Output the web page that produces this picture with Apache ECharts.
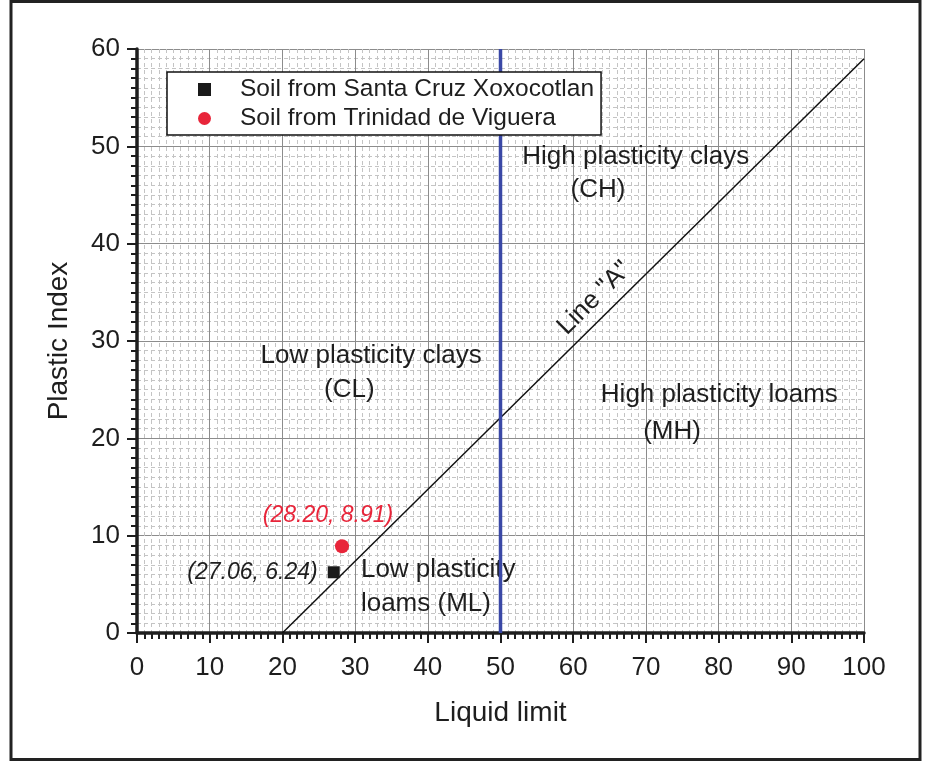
<!DOCTYPE html>
<html>
<head>
<meta charset="utf-8">
<title>Plasticity chart</title>
<script src="https://cdn.jsdelivr.net/npm/echarts@6/dist/echarts.min.js"></script>
<style>
    html, body { margin: 0; padding: 0; background: #fff; }
    #chartDiv { width: 932px; height: 762px; }
</style>
</head>
<body>
<div id="chartDiv"></div>
<script>
    // soil samples (liquid limit, plastic index)
    var santaCruz = [[27.06, 6.24]];
    var trinidad = [[28.20, 8.91]];
    // Casagrande line "A" and the LL = 50 divider
    var lineA = [[20, 0], [100, 59]];
    var llDivider = [[50, 0], [50, 60]];
    // zone names: [liquid limit, plastic index, text]
    var zoneNotes = [
        [68.6, 48.9, 'High plasticity clays'],
        [63.4, 45.5, '(CH)'],
        [32.2, 28.5, 'Low plasticity clays'],
        [29.2, 25.0, '(CL)'],
        [80.1, 24.5, 'High plasticity loams'],
        [73.6, 20.7, '(MH)']
    ];
    var mlNotes = [
        [30.8, 6.5, 'Low plasticity'],
        [30.8, 3.0, 'loams (ML)']
    ];
    var lineANote = [[62.9, 34.4, 'Line "A"']];

    var font = "'Liberation Sans', Arial, Helvetica, sans-serif";
    var ink = '#1e1e1e';

    function axisStyle(name, gap) {
        return {
            type: 'value',
            name: name,
            nameLocation: 'middle',
            nameGap: gap,
            nameTextStyle: { fontFamily: font, fontSize: 28, color: ink },
            axisLine: { lineStyle: { color: ink, width: 3.5 } },
            axisTick: { length: 10, lineStyle: { color: ink, width: 2 } },
            minorTick: { show: true, splitNumber: 10, length: 6, lineStyle: { color: ink, width: 2 } },
            splitLine: { show: true, lineStyle: { color: '#8c8c8c', width: 1 } },
            minorSplitLine: { show: true, lineStyle: { color: '#c4c4c4', width: 1, type: [4, 3] } },
            axisLabel: { fontFamily: font, fontSize: 26, color: ink }
        };
    }

    function noteData(list, label) {
        return list.map(function (d) {
            return { value: [d[0], d[1]], name: d[2], label: label };
        });
    }

    function pairText(p) {
        return '(' + p.value[0].toFixed(2) + ', ' + p.value[1].toFixed(2) + ')';
    }

    var xAxis = axisStyle('Liquid limit', 66);
    xAxis.min = 0;
    xAxis.max = 100;
    xAxis.interval = 10;
    xAxis.axisLabel.margin = 22;

    var yAxis = axisStyle('Plastic Index', 64);
    yAxis.min = 0;
    yAxis.max = 60;
    yAxis.interval = 10;
    yAxis.axisLabel.margin = 17;

    var chart = echarts.init(document.getElementById('chartDiv'));
    chart.setOption({
        backgroundColor: '#fff',
        animation: false,
        textStyle: { fontFamily: font },
        grid: { left: 137, right: 68, top: 49, bottom: 129, containLabel: false },
        graphic: [{
            type: 'rect',
            shape: { x: 11, y: 1.5, width: 909, height: 758 },
            style: { fill: null, stroke: '#222', lineWidth: 3 },
            silent: true
        }],
        legend: {
            orient: 'vertical',
            left: 167,
            top: 72,
            padding: [5, 7, 4, 31],
            itemWidth: 13,
            itemHeight: 13,
            itemGap: 4,
            backgroundColor: '#fff',
            borderColor: '#111',
            borderWidth: 1.5,
            borderRadius: 0,
            textStyle: { fontFamily: font, fontSize: 24.5, lineHeight: 24, color: ink, padding: [0, 0, 0, 24] },
            data: [
                { name: 'Soil from Santa Cruz Xoxocotlan', icon: 'rect' },
                { name: 'Soil from Trinidad de Viguera', icon: 'circle' }
            ]
        },
        xAxis: xAxis,
        yAxis: yAxis,
        series: [
            {
                type: 'scatter',
                silent: true,
                symbolSize: 0,
                itemStyle: { opacity: 1 },
                z: 1,
                data: noteData(zoneNotes, { show: true, position: 'inside', formatter: '{b}', fontSize: 26, color: ink })
                    .concat(noteData(mlNotes, { show: true, position: 'right', distance: 0, formatter: '{b}', fontSize: 26, color: ink }))
                    .concat(noteData(lineANote, { show: true, position: 'inside', rotate: 45, formatter: '{b}', fontSize: 26, color: ink }))
            },
            {
                type: 'line',
                data: lineA,
                symbol: 'none',
                silent: true,
                lineStyle: { color: '#111', width: 1.5 },
                z: 2
            },
            {
                type: 'line',
                data: llDivider,
                symbol: 'none',
                silent: true,
                lineStyle: { color: '#3a48a6', width: 3.5 },
                z: 3
            },
            {
                name: 'Soil from Santa Cruz Xoxocotlan',
                type: 'scatter',
                symbol: 'rect',
                symbolSize: 12,
                itemStyle: { color: '#1a1a1a', opacity: 1 },
                data: santaCruz,
                z: 4,
                label: {
                    show: true,
                    position: 'left',
                    distance: 10,
                    fontSize: 23,
                    fontStyle: 'italic',
                    color: '#1e1e1e',
                    formatter: pairText
                }
            },
            {
                name: 'Soil from Trinidad de Viguera',
                type: 'scatter',
                symbol: 'circle',
                symbolSize: 14,
                itemStyle: { color: '#e8253a', opacity: 1 },
                data: trinidad,
                z: 4,
                label: {
                    show: true,
                    position: 'top',
                    distance: 12,
                    offset: [-14, 0],
                    fontSize: 23,
                    fontStyle: 'italic',
                    color: '#e8253a',
                    formatter: pairText
                }
            }
        ]
    });
</script>
</body>
</html>
